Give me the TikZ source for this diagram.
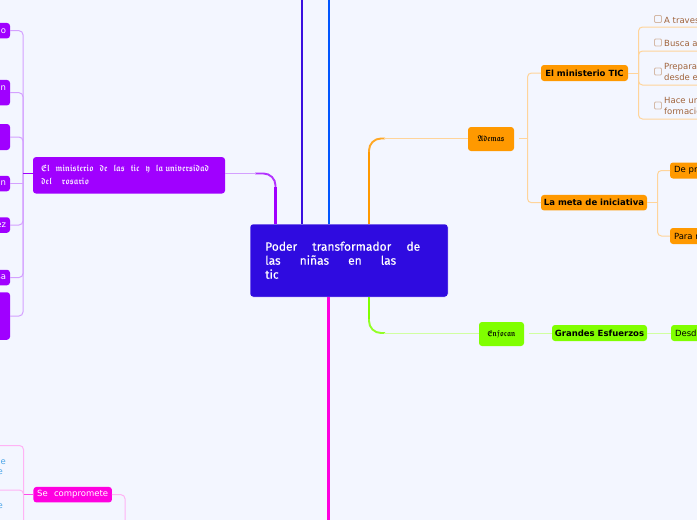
\documentclass[tikz,border=0pt]{standalone}
\usepackage{amssymb}
\usepackage{fontspec}
\setmainfont{DejaVu Sans}
\newfontfamily\hubfont[FakeBold=0.25]{Fira Sans}
\newcommand{\frk}[1]{\scalebox{0.8}[1]{\boldmath$\mathfrak{#1}$}}
\definecolor{bgc}{HTML}{F3F6FF}
\definecolor{hubc}{HTML}{2F0BE0}
\definecolor{purp}{HTML}{A000FF}
\definecolor{purl}{HTML}{D4A0FF}
\definecolor{mag}{HTML}{FF00E0}
\definecolor{magl}{HTML}{FFB3F5}
\definecolor{ora}{HTML}{FF9900}
\definecolor{oral}{HTML}{FFD49A}
\definecolor{gre}{HTML}{80FF00}
\definecolor{grel}{HTML}{D0FFA0}
\definecolor{vio}{HTML}{3A10E0}
\definecolor{blu}{HTML}{0055FF}
\definecolor{brownt}{HTML}{A0643C}
\definecolor{bluet}{HTML}{4DA6E8}
\tikzset{
  x=1pt,y=-1pt,
  boxn/.style={rounded corners=3pt,inner sep=0pt,outer sep=0pt,align=center},
  purpn/.style={boxn,fill=purp,text=white,font=\fontsize{8.5}{10}\selectfont},
  leftn/.style={purpn,text width=36pt,inner xsep=2pt,align=right},
  oran/.style={boxn,fill=ora,text=black},
  gren/.style={boxn,fill=gre,text=black},
  bold9/.style={font=\fontsize{8.5}{10}\selectfont\bfseries},
  plain9/.style={font=\fontsize{8.5}{10}\selectfont},
  itemt/.style={inner sep=0pt,anchor=west,align=left,text=brownt,font=\fontsize{8.5}{10.2}\selectfont},
  check/.style={draw=brownt!45,fill=bgc,rounded corners=1pt,line width=0.9pt,minimum size=7pt,inner sep=0pt},
  thick3/.style={line width=2.6pt},
  curve2/.style={line width=1.9pt,rounded corners=12pt},
  thin1/.style={line width=1pt},
  blue1/.style={inner sep=0pt,text=bluet,font=\fontsize{8.5}{10}\selectfont}
}
\begin{document}
\begin{tikzpicture}
\useasboundingbox (0,0) rectangle (697,520);
\clip (0,0) rectangle (697,520);
\fill[bgc] (0,0) rectangle (697,520);
% nodes
\node[boxn,fill=hubc,draw=white,line width=0.5pt,minimum width=198pt,minimum height=73pt,text=white] (hub) at (349,260.5) {};
\node[anchor=north west,inner sep=0pt,text=white,align=left,font=\hubfont\fontsize{12}{14}\selectfont] (hubt) at (265,241.5)
  {\makebox[155pt][s]{Poder\hfill transformador\hfill de}\\ \makebox[131pt][s]{las\hfill niñas\hfill en\hfill las}\\ tic};
\node[purpn,minimum width=192pt,minimum height=36.5pt] (main) at (129,175.3) {};
\node[anchor=north west,inner sep=0pt,text=white,align=left,font=\fontsize{9.5}{13}\selectfont] (maint) at (41,165)
  {\makebox[168pt][s]{\frk{El}\hfill\frk{ministerio}\hfill\frk{de}\hfill\frk{las}\hfill\frk{tic}\hfill\frk{y}\hfill\frk{la\ universidad}}\\ \frk{del}\hspace{10pt}\frk{rosario}};
\node[leftn,inner xsep=4pt,text width=32pt,minimum height=15.5pt] (l1) at (-10,30.7) {no};
\node[leftn,inner xsep=4pt,text width=32pt,minimum height=25.5pt] (l2) at (-10,92.7) {n\\\phantom{n}};
\node[leftn,minimum height=26pt] (l3) at (-10,137) {};
\node[leftn,inner xsep=4pt,text width=32pt,minimum height=15.5pt] (l4) at (-10,183.5) {n};
\node[leftn,inner xsep=4pt,text width=32pt,minimum height=15.5pt] (l5) at (-10,225) {ez};
\node[leftn,inner xsep=4pt,text width=32pt,minimum height=15.5pt] (l6) at (-10,277.5) {sa};
\node[leftn,minimum height=47.5pt] (l7) at (-10,316) {};
\node[boxn,fill=mag,text=white,font=\fontsize{8.5}{10}\selectfont,minimum width=78.5pt,minimum height=15.5pt] (sec) at (72.7,494.7) {\makebox[71pt][s]{Se\hfill compromete}};
\node[blue1,anchor=east] (b1) at (6,461) {de};
\node[blue1,anchor=east] (b2) at (3,472) {e};
\node[blue1,anchor=east] (b3) at (3,506) {e};
\node[oran,minimum width=46pt,minimum height=24pt,font=\fontsize{8.5}{10}\selectfont] (ade) at (491,139) {\frk{Ademas}};
\node[oran,bold9,minimum width=87pt,minimum height=16pt] (tic) at (584.5,73) {El ministerio TIC};
\node[oran,bold9,minimum width=106pt,minimum height=15.5pt] (meta) at (594,202.7) {La meta de iniciativa};
\node[oran,plain9,minimum width=50pt,minimum height=16pt,text width=42pt,align=left] (depr) at (695,170.5) {De pr};
\node[oran,plain9,minimum width=50pt,minimum height=16pt,text width=42pt,align=left] (para) at (695,236) {Para r};
\node[gren,minimum width=45pt,minimum height=24pt,font=\fontsize{8.5}{10}\selectfont] (enf) at (501.5,334) {\frk{Enfocan}};
\node[gren,bold9,minimum width=95pt,minimum height=16pt] (gra) at (599.5,333) {Grandes Esfuerzos};
\node[gren,plain9,minimum width=50pt,minimum height=16pt,text width=42pt,align=left] (des) at (696,333) {Desd};
% checklist
\node[check] (c1) at (658,19) {};
\node[itemt] (i1) at (664,20) {A traves};
\node[check] (c2) at (658,42.5) {};
\node[itemt] (i2) at (664,43) {Busca a};
\node[check] (c3) at (658,71.5) {};
\node[itemt] (i3) at (664,72) {Prepara\\desde e};
\node[check] (c4) at (658,105.5) {};
\node[itemt] (i4) at (664,106) {Hace un\\formació};
% free ends at the picture's border
\coordinate (topv) at (302,0);
\coordinate (topb) at (329,0);
\coordinate (botm) at (328.5,520);
\coordinate (edge1) at (697,27);
\coordinate (edge2) at (697,51);
\coordinate (edge3) at (697,85);
\coordinate (edge4) at (697,119);
\coordinate (mb1) at (0,445.5);
\coordinate (mb2) at (0,490);
\coordinate (mb3) at (23.5,520);
\coordinate (mr) at (125,520);
% hub connectors
\draw[thick3,vio] (hub.north -| topv) -- (topv);
\draw[thick3,blu] (hub.north -| topb) -- (topb);
\draw[thick3,mag] (hub.south -| botm) -- (botm);
\draw[curve2,purp!80!white] (275.5,195) -- (275.5,173.5) -- (255,173.5);
\draw[thick3,purp] (hub.north -| 275.5,0) -- (275.5,187);
\draw[thin1,purl] (256,173.5) -- (main.east |- 0,173.5);
\draw[curve2,ora!85!white] (369,160) -- (369,138.5) -- (385,138.5);
\draw[thick3,ora] (hub.north -| 369,0) -- (369,152);
\draw[thin1,oral] (384,138.5) -- (ade.west |- 0,138.5);
\draw[curve2,gre!85!white] (369,310) -- (369,333) -- (385,333);
\draw[thick3,gre] (hub.south -| 369,0) -- (369,319);
\draw[thin1,grel] (384,333) -- (enf.west |- 0,333);
% purple branch
\draw[thin1,purl,rounded corners=4pt] (l1.east) -- (23,30.7) -- (23,173.5);
\draw[thin1,purl,rounded corners=4pt] (l2.east) -- (23,92.7) -- (23,173.5);
\draw[thin1,purl,rounded corners=4pt] (l3.east) -- (23,137) -- (23,173.5);
\draw[thin1,purl] (l4.east) -- (23,183.5);
\draw[thin1,purl,rounded corners=4pt] (l5.east) -- (23,225) -- (23,173.5);
\draw[thin1,purl,rounded corners=4pt] (l6.east) -- (23,277.5) -- (23,173.5);
\draw[thin1,purl,rounded corners=4pt] (l7.east) -- (23,316) -- (23,173.5);
\draw[line width=1pt,purp] (23,173.5) -- (main.west |- 0,173.5);
% magenta branch
\draw[thin1,magl,rounded corners=4pt] (mb1) -- (23.5,445.5) -- (23.5,494.7);
\draw[thin1,magl,rounded corners=4pt] (mb2) -- (23.5,490) -- (mb3);
\draw[line width=1pt,mag!70] (23.5,494.7) -- (sec.west);
\draw[thin1,magl,rounded corners=4pt] (sec.east) -- (125,494.7) -- (mr);
% orange branches
\draw[thin1,oral] ([xshift=5pt]ade.east |- 0,138.5) -- (527.5,138.5);
\draw[thin1,oral,rounded corners=4pt] (tic.west) -- (527.5,73) -- (527.5,202.7) -- (meta.west);
\draw[thin1,oral] (tic.east) -- (638.5,73);
\draw[thin1,oral,rounded corners=4pt] (638.5,73) -- (638.5,27) -- (edge1);
\draw[thin1,oral,rounded corners=4pt] (638.5,73) -- (638.5,51) -- (edge2);
\draw[thin1,oral,rounded corners=4pt] (638.5,73) -- (638.5,85) -- (edge3);
\draw[thin1,oral,rounded corners=4pt] (638.5,73) -- (638.5,119) -- (edge4);
\draw[thin1,oral] (meta.east) -- (657.5,202.7);
\draw[thin1,oral,rounded corners=4pt] (depr.west) -- (657.5,170.5) -- (657.5,236) -- (para.west);
% green branches
\draw[thin1,grel] ([xshift=5pt]enf.east |- 0,333) -- (gra.west);
\draw[thin1,grel] (gra.east) -- (des.west);
\end{tikzpicture}
\end{document}
